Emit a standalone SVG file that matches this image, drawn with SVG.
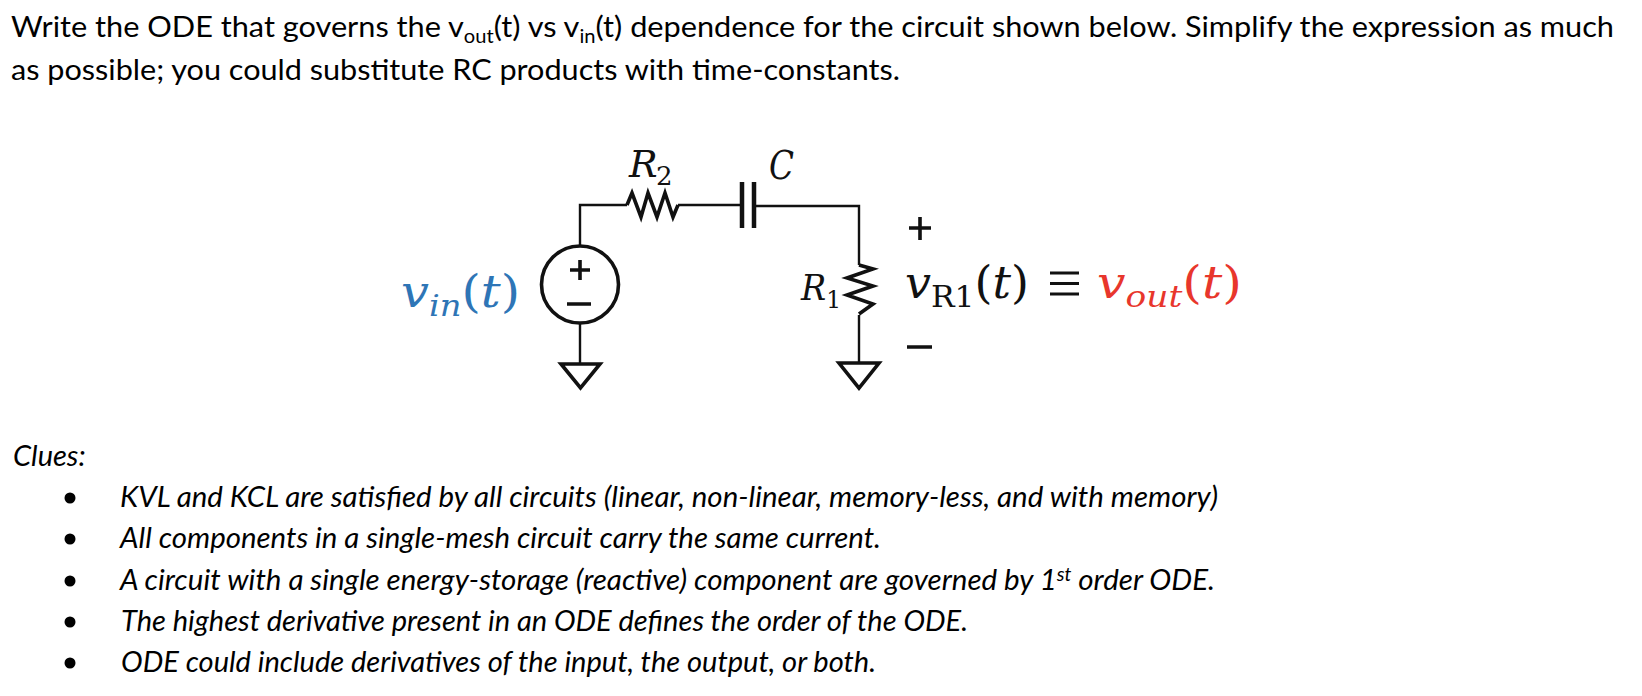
<svg xmlns="http://www.w3.org/2000/svg" width="1642" height="696" viewBox="0 0 1642 696">
<style>
.t{font-family:"Lato","Open Sans","Liberation Sans",sans-serif;font-size:29px;fill:#000}
.i{font-style:italic}
.s{font-size:19px}
.m{font-family:"DejaVu Serif","Liberation Serif",serif;font-style:italic;fill:#111}
.w{fill:none;stroke:#111;stroke-width:2.4;stroke-linejoin:miter}
.z{fill:none;stroke:#111;stroke-width:3.6}
.g{fill:#fff;stroke:#111;stroke-width:3.6}
</style>
<rect width="1642" height="696" fill="#fff"/>
<g id="question">
<text class="t" x="11" y="37" textLength="1603" lengthAdjust="spacingAndGlyphs">Write the ODE that governs the v<tspan class="s" dy="6">out</tspan><tspan dy="-6">(t) vs v</tspan><tspan class="s" dy="6">in</tspan><tspan dy="-6">(t) dependence for the circuit shown below. Simplify the expression as much</tspan></text>
<text class="t" x="11" y="80" textLength="889" lengthAdjust="spacingAndGlyphs">as possible; you could substitute RC products with time-constants.</text>
</g>
<g id="connectors">
<path class="w" d="M580 245V205H627M678 205H742M754 206H859V265M859 315V362M580 323V363"/>
</g>
<g id="R2"><path class="z" d="M627 205L632 193L641 217L648 193L657 217L665 193L673 217L678 205"/><text class="m" x="629" y="177" font-size="38">R</text><text class="m" x="656" y="185" font-size="26" style="font-style:normal">2</text></g>
<g id="C"><path d="M742 182V228M754 182V228" fill="none" stroke="#111" stroke-width="4.5"/><text class="m" x="769" y="179" font-size="40" textLength="25" lengthAdjust="spacingAndGlyphs">C</text></g>
<g id="source"><circle class="g" cx="580" cy="284.500" r="38.500"/><path d="M580 260V280M570 270H590M567 304H591" fill="none" stroke="#111" stroke-width="3.600"/><text class="m" x="401" y="307" font-size="44" style="fill:#2e75b6" textLength="119" lengthAdjust="spacingAndGlyphs">v<tspan font-size="30" dy="9">in</tspan><tspan dy="-9" font-style="normal">(</tspan>t<tspan font-style="normal">)</tspan></text></g>
<g id="R1"><path class="z" d="M859 265L873 269L847 278L873 286L847 295L873 304L859 314"/><text class="m" x="801" y="300" font-size="36" textLength="40" lengthAdjust="spacingAndGlyphs">R<tspan font-size="25" dy="8" font-style="normal">1</tspan></text></g>
<g id="gnd1"><path class="g" d="M561 364H600L580.500 388Z"/></g>
<g id="gnd2"><path class="g" d="M839 363H879L859 388Z"/></g>
<g id="output">
<path d="M920 217V240M909 228H931M907 347H932" fill="none" stroke="#111" stroke-width="3.600"/>
<text class="m" x="905" y="298" font-size="44" textLength="124" lengthAdjust="spacingAndGlyphs">v<tspan font-size="30" dy="9" font-style="normal">R1</tspan><tspan dy="-9" font-style="normal">(</tspan>t<tspan font-style="normal">)</tspan></text>
<path d="M1050 273H1079M1050 283.500H1079M1050 294H1079" fill="none" stroke="#111" stroke-width="3"/>
<text class="m" x="1097" y="298" style="fill:#e8362c" font-size="44" textLength="145" lengthAdjust="spacingAndGlyphs">v<tspan font-size="30" dy="9">out</tspan><tspan dy="-9" font-style="normal">(</tspan>t<tspan font-style="normal">)</tspan></text>
</g>
<g id="clues">
<text class="t i" x="13" y="466">Clues:</text>
<g fill="#000"><circle cx="70" cy="498" r="5.500"/><circle cx="70" cy="539" r="5.500"/><circle cx="70" cy="581" r="5.500"/><circle cx="70" cy="622" r="5.500"/><circle cx="70" cy="663" r="5.500"/></g>
<text class="t i" x="120" y="507" textLength="1098" lengthAdjust="spacingAndGlyphs">KVL and KCL are satisfied by all circuits (linear, non-linear, memory-less, and with memory)</text>
<text class="t i" x="120" y="548" textLength="761" lengthAdjust="spacingAndGlyphs">All components in a single-mesh circuit carry the same current.</text>
<text class="t i" x="120" y="590" textLength="1095" lengthAdjust="spacingAndGlyphs">A circuit with a single energy-storage (reactive) component are governed by 1<tspan class="s" dy="-9">st</tspan><tspan dy="9"> order ODE.</tspan></text>
<text class="t i" x="121" y="631" textLength="847" lengthAdjust="spacingAndGlyphs">The highest derivative present in an ODE defines the order of the ODE.</text>
<text class="t i" x="121" y="672" textLength="755" lengthAdjust="spacingAndGlyphs">ODE could include derivatives of the input, the output, or both.</text>
</g>
</svg>
